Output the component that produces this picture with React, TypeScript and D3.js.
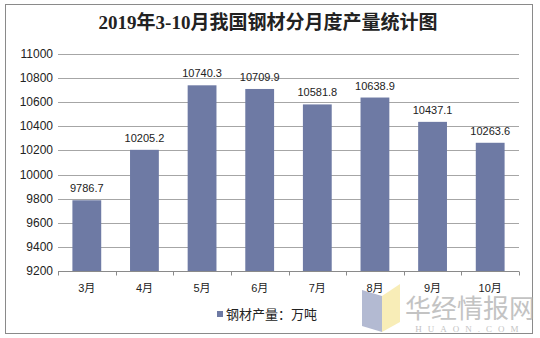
import React, { useEffect, useRef } from "react";
import * as d3 from "d3";

const months = ["3月", "4月", "5月", "6月", "7月", "8月", "9月", "10月"];
const output = [9786.7, 10205.2, 10740.3, 10709.9, 10581.8, 10638.9, 10437.1, 10263.6];
const yTicks = [9200, 9400, 9600, 9800, 10000, 10200, 10400, 10600, 10800, 11000];

const title = "2019年3-10月我国钢材分月度产量统计图";
const legendLabel = "钢材产量：万吨";

export default function App() {
  const ref = useRef<SVGSVGElement>(null);

  useEffect(() => {
    const width = 540;
    const height = 338;
    const margin = { top: 54, right: 21, bottom: 67, left: 58 };
    const innerWidth = width - margin.left - margin.right;
    const innerHeight = height - margin.top - margin.bottom;

    const svg = d3.select(ref.current).attr("width", width).attr("height", height);
    svg.selectAll("*").remove();

    svg.append("rect")
      .attr("x", 0).attr("y", 0).attr("width", width).attr("height", height)
      .attr("fill", "#fff");
    // outer frame
    svg.append("rect")
      .attr("x", 5.5).attr("y", 4.5).attr("width", 527).attr("height", 329)
      .attr("fill", "none").attr("stroke", "#8a8a8a");

    svg.append("text")
      .attr("x", 268).attr("y", 29)
      .attr("text-anchor", "middle")
      .style("font-family", "'Liberation Serif', 'Noto Sans CJK SC', serif")
      .style("font-size", "19px")
      .style("font-weight", "bold")
      .attr("fill", "#222")
      .text(title);

    const g = svg.append("g").attr("transform", `translate(${margin.left}, ${margin.top})`);

    const x = d3.scaleBand().domain(months).range([0, innerWidth]).paddingInner(0.5).paddingOuter(0.25);
    const y = d3.scaleLinear().domain([9200, 11000]).range([innerHeight, 0]);

    // gridlines
    g.append("g").selectAll("line").data(yTicks.slice(1)).enter()
      .append("line")
      .attr("x1", 0).attr("x2", innerWidth)
      .attr("y1", d => Math.round(y(d)) + 0.5).attr("y2", d => Math.round(y(d)) + 0.5)
      .attr("stroke", "#a6a6a6");

    // y labels
    g.append("g").selectAll("text").data(yTicks).enter()
      .append("text")
      .attr("x", -5).attr("y", d => y(d) + 4)
      .attr("text-anchor", "end")
      .style("font-family", "'Liberation Sans', Arial, sans-serif")
      .style("font-size", "12px")
      .attr("fill", "#222")
      .text(d => d);

    g.selectAll("rect.bar").data(output).enter()
      .append("rect")
      .attr("class", "bar")
      .attr("x", (d, i) => x(months[i])!)
      .attr("width", x.bandwidth())
      .attr("y", d => y(d))
      .attr("height", d => innerHeight - y(d))
      .attr("fill", "#6e7aa4");

    g.selectAll("text.val").data(output).enter()
      .append("text")
      .attr("class", "val")
      .attr("x", (d, i) => x(months[i])! + x.bandwidth() / 2)
      .attr("y", d => y(d) - 8)
      .attr("text-anchor", "middle")
      .style("font-family", "'Liberation Sans', Arial, sans-serif")
      .style("font-size", "11px")
      .attr("fill", "#222")
      .text(d => d.toFixed(1));

    // x axis
    const axisY = Math.round(innerHeight) + 0.5;
    g.append("line")
      .attr("x1", 0).attr("x2", innerWidth).attr("y1", axisY).attr("y2", axisY)
      .attr("stroke", "#8a8a8a");
    const step = innerWidth / months.length;
    g.append("g").selectAll("line").data(d3.range(months.length + 1)).enter()
      .append("line")
      .attr("x1", i => Math.round(i * step) + 0.5).attr("x2", i => Math.round(i * step) + 0.5)
      .attr("y1", axisY).attr("y2", axisY + 4)
      .attr("stroke", "#8a8a8a");
    g.append("g").selectAll("text").data(months).enter()
      .append("text")
      .attr("x", d => x(d)! + x.bandwidth() / 2)
      .attr("y", innerHeight + 21)
      .attr("text-anchor", "middle")
      .style("font-family", "'Liberation Sans', 'Noto Sans CJK SC', sans-serif")
      .style("font-size", "11px")
      .attr("fill", "#222")
      .text(d => d);

    // legend
    svg.append("rect")
      .attr("x", 217).attr("y", 311).attr("width", 6).attr("height", 6)
      .attr("fill", "#6e7aa4");
    svg.append("text")
      .attr("x", 226).attr("y", 319)
      .style("font-family", "'Noto Sans CJK SC', sans-serif")
      .style("font-size", "13px")
      .attr("fill", "#222")
      .text(legendLabel);

    // watermark
    const wm = svg.append("g").attr("opacity", 0.75);
    wm.append("polygon")
      .attr("points", "362,290 382,296 382,332 362,326")
      .attr("fill", "#9aa3c4");
    wm.append("polygon")
      .attr("points", "382,296 400,284 400,322 382,332")
      .attr("fill", "#f6e7a0");
    wm.append("text")
      .attr("x", 470).attr("y", 318)
      .attr("text-anchor", "middle")
      .style("font-family", "'Liberation Serif', 'Noto Sans CJK SC', serif")
      .style("font-size", "26px")
      .attr("fill", "#b0b0b0")
      .text("华经情报网");
    wm.append("text")
      .attr("x", 470).attr("y", 332)
      .attr("text-anchor", "middle")
      .style("font-family", "'Liberation Serif', serif")
      .style("font-size", "9px")
      .style("letter-spacing", "6px")
      .attr("fill", "#b0b0b0")
      .text("HUAON.COM");
  }, []);

  return <svg ref={ref} style={{ position: "fixed", left: 0, top: 0 }}></svg>;
}
